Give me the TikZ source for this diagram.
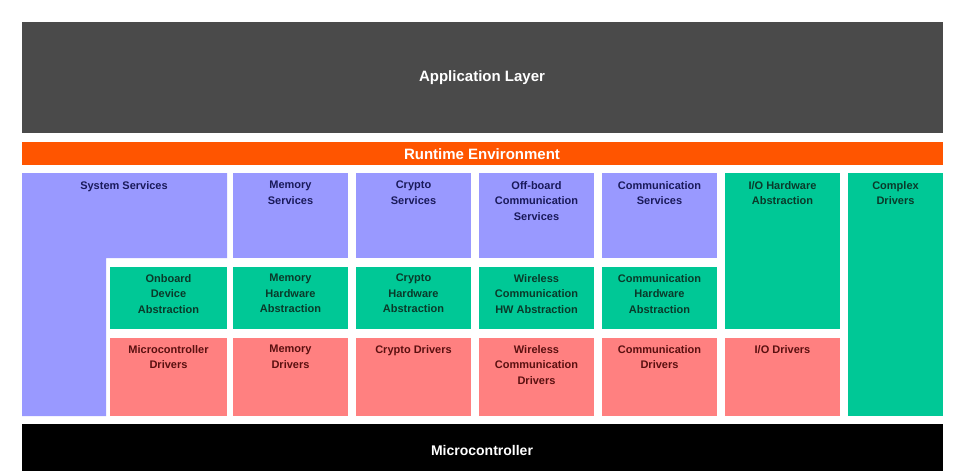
\documentclass[tikz,border=0pt]{standalone}
\usepackage{fontspec}
\setmainfont{Liberation Sans}
\begin{document}
\begin{tikzpicture}[x=1pt,y=-1pt,
  lab/.style={anchor=north,align=center,inner sep=0pt,font=\fontsize{11}{15.5}\selectfont\bfseries}]
\definecolor{purpleS}{HTML}{9999FF}
\definecolor{greenS}{HTML}{00C896}
\definecolor{redS}{HTML}{FF8080}
\definecolor{navyT}{HTML}{1A1A5A}
\definecolor{grnT}{HTML}{0A3A2A}
\definecolor{redT}{HTML}{5A1010}
\definecolor{appG}{HTML}{4A4A4A}
\definecolor{rteO}{HTML}{FF5500}
\useasboundingbox (0,0) rectangle (958,471);
\fill[white] (0,0) rectangle (958,471);
% layers
\fill[appG] (22,22) rectangle (943,133);
\node[font=\fontsize{15}{18}\selectfont\bfseries,text=white] (app) at (482,78) {Application Layer};
\fill[rteO] (22,142) rectangle (943,165);
\node[font=\fontsize{15}{18}\selectfont\bfseries,text=white] (rte) at (482,154) {Runtime Environment};
\fill[black] (22,424) rectangle (943,471);
\node[font=\fontsize{14}{16}\selectfont\bfseries,text=white] (mcu) at (482,450) {Microcontroller};
% system services L-shape
\fill[purpleS] (22,173) -- (227,173) -- (227,258) -- (106,258) -- (106,416) -- (22,416) -- cycle;
\node[lab,text=navyT] (sys) at (124,181) {System Services};
% purple row
\foreach \x/\n/\t in {233/mems/{Memory\\Services},356/crys/{Crypto\\Services},479/offs/{Off-board\\Communication\\Services},602/coms/{Communication\\Services}}{
  \fill[purpleS] (\x,173) rectangle ++(115,85);
  \node[lab,text=navyT] (\n) at (\x+57.5,181) {\t};
}
% green row
\foreach \x/\w/\n/\t in {110/117/onb/{Onboard\\Device\\Abstraction},233/115/memh/{Memory\\Hardware\\Abstraction},356/115/cryh/{Crypto\\Hardware\\Abstraction},479/115/wlh/{Wireless\\Communication\\HW Abstraction},602/115/comh/{Communication\\Hardware\\Abstraction}}{
  \fill[greenS] (\x,267) rectangle ++(\w,62);
  \node[lab,text=grnT] (\n) at (\x+\w/2,274) {\t};
}
\fill[greenS] (725,173) rectangle (840,329);
\node[lab,text=grnT] (ioh) at (782.5,181) {I/O Hardware\\Abstraction};
\fill[greenS] (848,173) rectangle (943,416);
\node[lab,text=grnT] (cdd) at (895.5,181) {Complex\\Drivers};
% red row
\foreach \x/\w/\n/\t in {110/117/mcd/{Microcontroller\\Drivers},233/115/memd/{Memory\\Drivers},356/115/cryd/{Crypto Drivers},479/115/wld/{Wireless\\Communication\\Drivers},602/115/comd/{Communication\\Drivers},725/115/iod/{I/O Drivers}}{
  \fill[redS] (\x,338) rectangle ++(\w,78);
  \node[lab,text=redT] (\n) at (\x+\w/2,345) {\t};
}
\end{tikzpicture}
\end{document}
